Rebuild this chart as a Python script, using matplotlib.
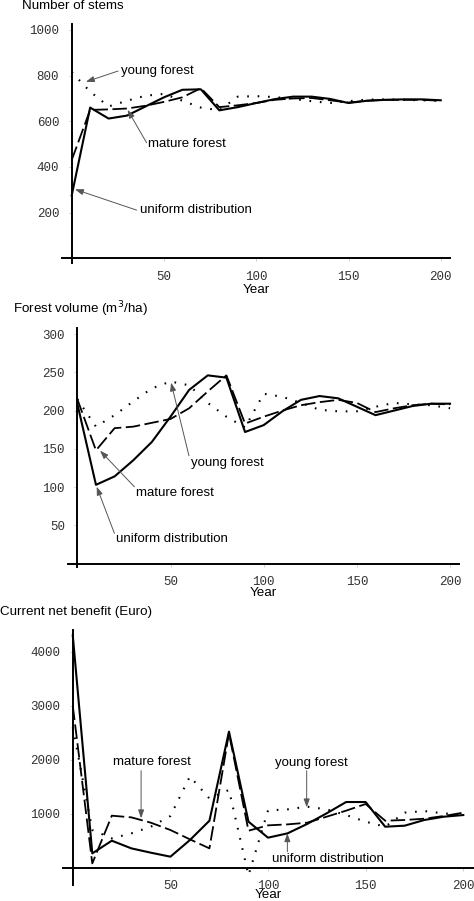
import numpy as np
import matplotlib
matplotlib.use('Agg')
import matplotlib.pyplot as plt

# data
years = np.arange(0, 201, 10)

stems_uniform = [275, 660, 612, 625, 665, 705, 738, 740, 648, 662, 680, 697, 708, 708, 698, 680, 690, 694, 696, 696, 692]
stems_mature = [430, 650, 652, 656, 668, 685, 705, 745, 662, 670, 680, 694, 700, 702, 692, 682, 690, 694, 694, 694, 690]
stems_young = [815, 730, 665, 690, 712, 720, 690, 660, 648, 708, 710, 706, 698, 688, 680, 688, 695, 696, 694, 692, 690]

vol_uniform = [209, 103, 114, 135, 159, 192, 227, 246, 243, 172, 181, 199, 214, 219, 216, 205, 194, 200, 206, 209, 209]
vol_mature = [215, 148, 177, 179, 184, 189, 203, 225, 246, 183, 192, 200, 207, 211, 214, 210, 198, 203, 207, 209, 208]
vol_young = [215, 179, 194, 212, 229, 238, 233, 210, 192, 178, 222, 218, 210, 201, 199, 199, 205, 210, 208, 207, 203]

ben_uniform = [4300, 265, 500, 358, 278, 204, 512, 870, 2519, 852, 556, 636, 809, 1006, 1216, 1216, 759, 778, 883, 944, 975]
ben_mature = [3000, 80, 963, 932, 833, 698, 525, 358, 2488, 685, 784, 802, 833, 944, 1056, 1179, 870, 883, 907, 957, 1019]
ben_young = [2600, 698, 543, 636, 759, 957, 1690, 1280, 1440, -140, 1060, 1080, 1130, 1080, 975, 852, 759, 1019, 1049, 1006, 975]

W, H = 474, 901
fig = plt.figure(figsize=(W / 100, H / 100), dpi=100)


def make_ax(left, right, top, bottom, xlim, ylim, yticks):
    ax = fig.add_axes([left / W, 1 - bottom / H, (right - left) / W, (bottom - top) / H])
    ax.set_xlim(*xlim)
    ax.set_ylim(*ylim)
    for s in ['top', 'right']:
        ax.spines[s].set_visible(False)
    ax.spines['left'].set_position(('data', 0))
    ax.spines['bottom'].set_position(('data', 0))
    ax.spines['left'].set_linewidth(1.4)
    ax.spines['bottom'].set_linewidth(1.4)
    ax.set_xticks([50, 100, 150, 200])
    ax.set_yticks(yticks)
    ax.tick_params(length=2, width=0.5, color='#bbbbbb', labelsize=9, labelcolor='#333333', pad=7)
    for lab in ax.get_xticklabels() + ax.get_yticklabels():
        lab.set_family('Liberation Mono')
    ax.patch.set_visible(False)
    return ax


def draw(ax, u, m, y):
    ax.plot(years, u, color='black', lw=1.5, clip_on=False)
    ax.plot(years, m, color='black', lw=1.3, linestyle=(0, (8, 2.5)), clip_on=False)
    ax.plot(years, y, color='black', lw=1.5, linestyle=(0, (0.8, 4.2)), clip_on=False)


def note(ax, text, txy, tail, tip):
    ax.text(txy[0], txy[1], text, ha='left', va='center', fontsize=9.5, family='Liberation Sans')
    ax.annotate('', xy=tip, xytext=tail,
                arrowprops=dict(arrowstyle='-|>,head_length=0.5,head_width=0.18', color='#555555', lw=0.7,
                                shrinkA=0, shrinkB=0))


# panel 1
ax1 = make_ax(62, 450, 24, 262.9, (-5.25, 205), (-20, 1026), [200, 400, 600, 800, 1000])
draw(ax1, stems_uniform, stems_mature, stems_young)
note(ax1, 'young forest', (26.5, 820), (25.1, 820), (7.7, 773))
note(ax1, 'mature forest', (41.2, 500), (40.6, 506), (30.3, 650))
note(ax1, 'uniform distribution', (37, 212), (35.2, 211), (1.8, 302))

# panel 2
ax2 = make_ax(68, 459, 328.3, 566.7, (-5, 204.8), (-4, 307.5), [50, 100, 150, 200, 250, 300])
draw(ax2, vol_uniform, vol_mature, vol_young)
note(ax2, 'young forest', (60.9, 132), (59.9, 141), (50.3, 236.5))
note(ax2, 'mature forest', (31.5, 92), (30.6, 100.5), (12.2, 147.6))
note(ax2, 'uniform distribution', (20.8, 32), (19.9, 39.6), (10.4, 100.5))

# panel 3
ax3 = make_ax(63, 482.8, 630, 885, (-5, 210), (-320, 4400), [1000, 2000, 3000, 4000])
draw(ax3, ben_uniform, ben_mature, ben_young)
note(ax3, 'mature forest', (20.5, 1963), (35, 1796), (35, 915))
note(ax3, 'young forest', (103.7, 1944), (119.8, 1796), (119.8, 1118))
note(ax3, 'uniform distribution', (102.2, 167), (109.9, 296), (109.9, 637))

# axis titles
lab = dict(fontsize=9.6, family='Liberation Sans', va='center')
fig.text(21.7 / W, 1 - 6 / H, 'Number of stems', ha='left', **lab)
fig.text(13.3 / W, 1 - 309.3 / H, 'Forest volume (m$^3$/ha)', ha='left', **lab)
fig.text(0 / W, 1 - 611.7 / H, 'Current net benefit (Euro)', ha='left', **lab)
fig.text(256.7 / W, 1 - 290 / H, 'Year', ha='center', **lab)
fig.text(263.3 / W, 1 - 593.5 / H, 'Year', ha='center', **lab)
fig.text(268.3 / W, 1 - 895 / H, 'Year', ha='center', **lab)

plt.savefig('out.png', dpi=100)
